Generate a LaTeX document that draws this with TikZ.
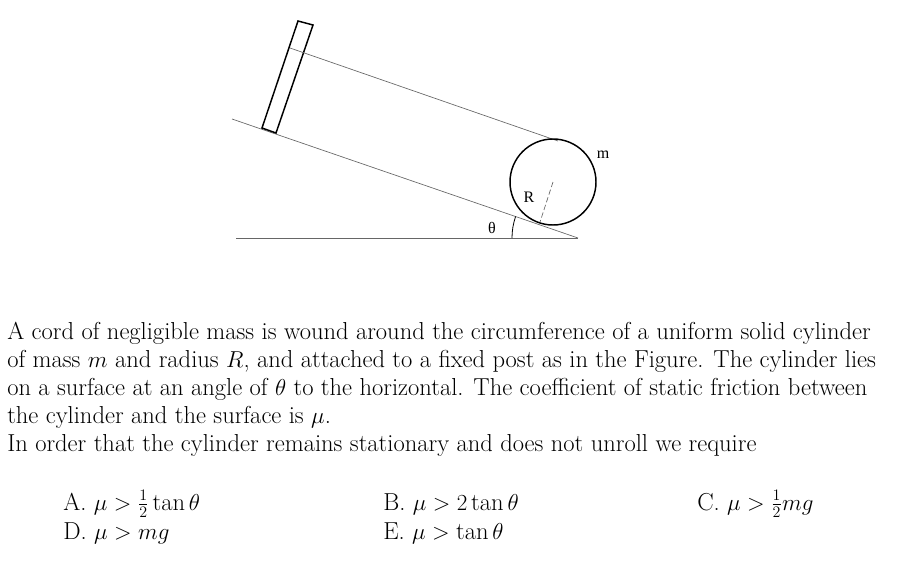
\documentclass[tikz,border=0pt]{standalone}
\usepackage{fontspec}
\newfontfamily\tms{Liberation Serif}
\begin{document}
\begin{tikzpicture}[x=0.75pt,y=-0.75pt,
  thin/.style={draw=black!60,line width=0.5pt},
  lbl/.style={font=\tms\fontsize{12}{14}\selectfont,inner sep=0pt},
  txt/.style={anchor=base west,inner sep=0pt,font=\fontsize{18.4}{22}\selectfont}]
\useasboundingbox (0,0) rectangle (900,564);
\coordinate (h1) at (236,238); \coordinate (h2) at (578,238);
\coordinate (i1) at (232,119);
\draw[thin] (h1) -- (h2);
\draw[thin] (i1) -- (h2);
\draw[line width=1.1pt] (298,21) -- (313,25) -- (276,133) -- (262,128) -- cycle;
\coordinate (c0) at (290,48); \coordinate (ct) at (558,141);
\draw[thin] (c0) -- (ct);
\node[circle,draw,line width=1.1pt,minimum size=86pt*0.75,inner sep=0pt] (cyl) at (553,182) {};
\coordinate (cp) at (540,222);
\draw[thin,dash pattern=on 4pt off 2pt] (cyl.center) -- (cp);
\draw[line width=0.6pt] (512,238) arc[start angle=180,end angle=199,radius=66];
\node[lbl] (R) at (529,197) {R};
\node[lbl] (m) at (603,155) {m};
\node[lbl] (th) at (492,228) {θ};
\node[txt] (l1) at (7,339) {A cord of negligible mass is wound around the circumference of a uniform solid cylinder};
\node[txt] (l2) at (7,367) {of mass $m$ and radius $R$, and attached to a fixed post as in the Figure. The cylinder lies};
\node[txt] (l3) at (7,395) {on a surface at an angle of $\theta$ to the horizontal. The coefficient of static friction between};
\node[txt] (l4) at (7,423) {the cylinder and the surface is $\mu$.};
\node[txt] (l5) at (7,451) {In order that the cylinder remains stationary and does not unroll we require};
\node[txt] (a) at (63,510) {A. $\mu>\frac12\tan\theta$};
\node[txt] (d) at (63,539) {D. $\mu>mg$};
\node[txt] (b) at (383,510) {B. $\mu>2\tan\theta$};
\node[txt] (e) at (383,539) {E. $\mu>\tan\theta$};
\node[txt] (c) at (697,510) {C. $\mu>\frac12mg$};
\end{tikzpicture}
\end{document}
